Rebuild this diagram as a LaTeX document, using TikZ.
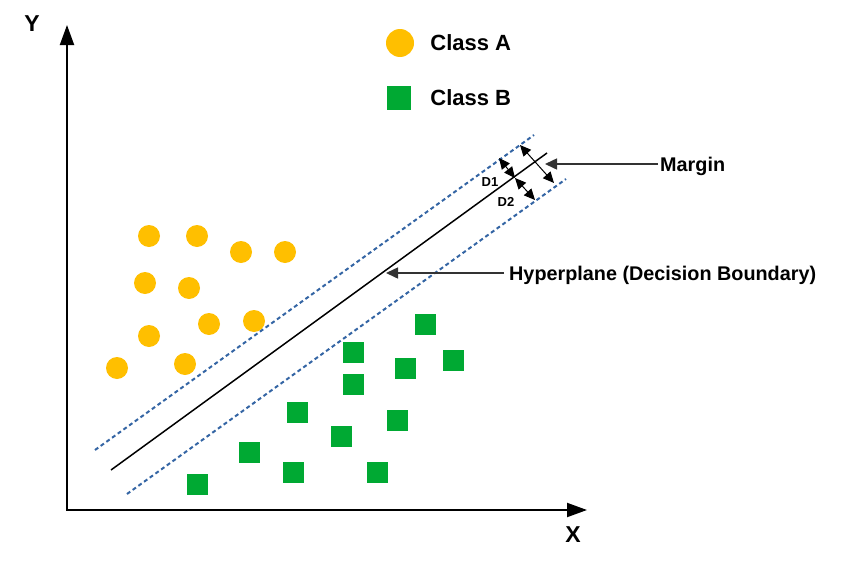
\documentclass[tikz,border=0pt]{standalone}
\usepackage{fontspec}
\setmainfont{Liberation Sans}
\usetikzlibrary{arrows.meta,positioning}
\definecolor{classA}{HTML}{FFBF00}
\definecolor{classB}{HTML}{00A933}
\definecolor{marginblue}{HTML}{3465A4}
\tikzset{ptA/.style={circle,fill=classA,minimum size=22pt,inner sep=0},
  ptB/.style={rectangle,fill=classB,minimum size=21pt,inner sep=0},
  lbl/.style={font=\fontsize{19.8}{22}\selectfont\bfseries,inner sep=0},
  dist/.style={{Triangle[length=11pt,width=10pt]}-{Triangle[length=11pt,width=10pt]},line width=1pt},
  pointer/.style={-{Triangle[length=12pt,width=11pt]},line width=1.5pt,black!80},
  bound/.style={dashed,dash pattern=on 4pt off 3pt,line width=2pt,marginblue}}

\begin{document}
\begin{tikzpicture}[x=1pt,y=-1pt]
\useasboundingbox (0,0) rectangle (844,581);

% axes
\coordinate (o) at (67,510);
\draw[line width=2pt,-{Triangle[length=20pt,width=14pt]}] (o) -- (67,25) coordinate (ytip);
\draw[line width=2pt,-{Triangle[length=20pt,width=14pt]}] (66,510) -- (587,510) coordinate (xtip);
\node[lbl,font=\fontsize{23}{26}\selectfont\bfseries] (ylab) at (32,24) {Y};
\node[lbl,font=\fontsize{23}{26}\selectfont\bfseries] (xlab) at (573,535) {X};

% legend
\node[ptA,minimum size=28pt] (lgA) at (400,43) {};
\node[lbl,font=\fontsize{22}{26}\selectfont\bfseries,right=16pt of lgA] (lgAtext) {Class A};
\node[ptB,minimum size=24pt] (lgB) at (399,98) {};
\node[lbl,font=\fontsize{22}{26}\selectfont\bfseries,right=19pt of lgB] (lgBtext) {Class B};

% class A points
\foreach \p [count=\i] in {(149,236),(197,236),(241,252),(285,252),(145,283),(189,288),
  (149,336),(209,324),(254,321),(117,368),(185,364)}
  \node[ptA] (a\i) at \p {};

% class B points
\foreach \p [count=\i] in {(425,324),(353,352),(405,368),(453,360),(353,384),(297,412),
  (397,420),(341,436),(249,452),(293,472),(377,472),(197,484)}
  \node[ptB] (b\i) at \p {};

% hyperplane and margin lines
\coordinate (hp1) at (111,470);
\coordinate (hp2) at (547,153);
\draw[line width=1.5pt] (hp1) -- (hp2);
\draw[bound] (95,450) coordinate (up1) -- (534,135) coordinate (up2);
\draw[bound] (127,494) coordinate (lo1) -- (566,179) coordinate (lo2);

% distances
\coordinate (m1) at (520,145);
\coordinate (m2) at (554,183);
\coordinate (d1) at (499,158);
\coordinate (d0) at (515,178);
\coordinate (d2) at (535,200);
\draw[dist] (m1) -- (m2);
\draw[dist] (d1) -- (d0);
\draw[dist] (d0) -- (d2);
\node[lbl,font=\fontsize{13}{15}\selectfont\bfseries] (D1) at (490,182) {D1};
\node[lbl,font=\fontsize{13}{15}\selectfont\bfseries] (D2) at (506,202) {D2};

% labels
\node[lbl,anchor=west] (margin) at (660,166) {Margin};
\coordinate (mtip) at (545,164);
\draw[pointer] (margin.west |- mtip) ++(-2,0) -- (mtip);
\node[lbl,anchor=west] (hyper) at (509,275) {Hyperplane (Decision Boundary)};
\coordinate (htip) at (386,273);
\draw[pointer] (hyper.west |- htip) ++(-5,0) -- (htip);

\end{tikzpicture}
\end{document}
